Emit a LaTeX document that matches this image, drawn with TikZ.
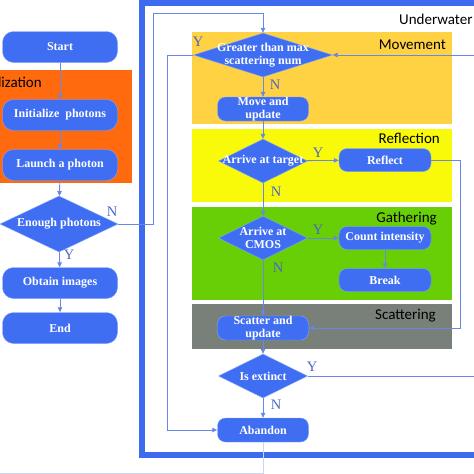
\documentclass[tikz,border=0pt]{standalone}
\usepackage{fontspec}
\setmainfont{Liberation Serif}
\newfontfamily\stagefont{Carlito}
\usetikzlibrary{arrows.meta,shapes.geometric}
\definecolor{nodeblue}{HTML}{3F6EF2}
\definecolor{nodeedge}{HTML}{86A6FF}
\definecolor{linkblue}{HTML}{6788E6}
\definecolor{frameblue}{HTML}{3E6AF0}
\definecolor{initbg}{HTML}{FF6A0E}
\definecolor{movebg}{HTML}{FFD243}
\definecolor{reflbg}{HTML}{F9F90A}
\definecolor{gathbg}{HTML}{68CE05}
\definecolor{scatbg}{HTML}{788079}
\definecolor{yntext}{HTML}{4A66C8}
\tikzset{%
    >={Triangle[length=5pt,width=4.5pt]},
    proc/.style={draw=nodeedge, fill=nodeblue, rounded corners=8pt, text=white,
        font=\bfseries\fontsize{12}{13}\selectfont, align=center, inner sep=0pt},
    bigproc/.style={proc, rounded corners=11pt, minimum width=115, minimum height=31},
    dec/.style={diamond, draw=nodeedge, fill=nodeblue, inner sep=0pt},
    dectext/.style={text=white, font=\bfseries\fontsize{12}{13}\selectfont, align=center, inner sep=0pt},
    link/.style={draw=linkblue, line width=0.8pt},
    yn/.style={text=yntext, font=\fontsize{14.5}{15}\selectfont, inner sep=0pt},
    stage/.style={font=\stagefont\fontsize{15}{18}\selectfont, inner sep=0pt}
}
\begin{document}
\begin{tikzpicture}[x=1pt,y=-1pt]
        \useasboundingbox (0,0) rectangle (474,474);
        \clip (0,0) rectangle (474,474);

        % stage panels
        \fill[initbg] (-5,70) rectangle (132,183);
        \node[stage, anchor=east] (initlbl) at (42,82) {Initialization};
        \fill[movebg] (192,32) rectangle (452,124);
        \node[stage, anchor=east] (movelbl) at (446,45) {Movement};
        \fill[reflbg] (192,129) rectangle (452,202);
        \node[stage, anchor=east] (refllbl) at (440,138) {Reflection};
        \fill[gathbg] (192,207) rectangle (452,300);
        \node[stage, anchor=east] (gathlbl) at (437,219) {Gathering};
        \fill[scatbg] (192,304) rectangle (452,349);
        \node[stage, anchor=east] (scatlbl) at (436,316) {Scattering};

        % underwater frame
        \draw[frameblue, line width=6.5pt] (142,3) rectangle (520,455);
        \node[stage, anchor=west] (uwlbl) at (399,19) {Underwater};

        % left flow
        \node[bigproc] (start) at (60,47) {Start};
        \node[bigproc] (init) at (60,115) {Initialize\ \ photons};
        \node[bigproc] (launch) at (60,165) {Launch a photon};
        \node[dec, minimum width=118, minimum height=56] (enough) at (59,224) {};
        \node[dectext] (enough-t) at (enough) {Enough photons};
        \node[bigproc] (obtain) at (60,283) {Obtain images};
        \node[bigproc] (end) at (60,328) {End};

        % underwater flow
        \node[dec, minimum width=139, minimum height=44] (gt) at (263,55) {};
        \node[dectext] (gt-t) at (gt) {Greater than max\\scattering num};
        \node[proc, minimum width=91, minimum height=24] (move) at (263,109) {Move and\\update};
        \node[dec, minimum width=89, minimum height=44] (target) at (263,161) {};
        \node[dectext] (target-t) at (target) {Arrive at target};
        \node[proc, minimum width=92, minimum height=23] (reflect) at (385,160) {Reflect};
        \node[dec, minimum width=89, minimum height=44] (cmos) at (263,238) {};
        \node[dectext] (cmos-t) at (cmos) {Arrive at\\CMOS};
        \node[proc, minimum width=92, minimum height=23] (count) at (385,238) {Count intensity};
        \node[proc, minimum width=92, minimum height=23] (break) at (385,280) {Break};
        \node[proc, minimum width=91, minimum height=24] (scatter) at (263,328) {Scatter and\\update};
        \node[dec, minimum width=89, minimum height=44] (extinct) at (263,376) {};
        \node[dectext] (extinct-t) at (extinct) {Is extinct};
        \node[proc, minimum width=91, minimum height=24] (abandon) at (263,430) {Abandon};

        % connectors
        \draw[link, ->] (start) -- (init);
        \draw[link, ->] (init) -- (launch);
        \draw[link, ->] (launch) -- (enough);
        \draw[link, ->] (enough) -- (obtain);
        \draw[link, ->] (obtain) -- (end);
        \draw[link, ->] (enough.east) -- (153,224) -- (153,13) -- (263,13) -- (gt.north);
        \draw[link, ->] (gt.west) -- (167,55) -- (167,430) -- (abandon.west);
        \draw[link, ->] (gt) -- (move);
        \draw[link, ->] (move) -- (target);
        \draw[link, ->] (target) -- (reflect);
        \draw[link, ->] (target) -- (cmos);
        \draw[link, ->] (cmos) -- (count);
        \draw[link, ->] (count) -- (break);
        \draw[link, ->] (cmos) -- (scatter);
        \draw[link, ->] (reflect.east) -- (460,160) -- (460,328) -- (scatter.east);
        \draw[link, ->] (scatter) -- (extinct);
        \draw[link, ->] (extinct) -- (abandon);
        \draw[link, ->] (extinct.east) -- (490,376) -- (490,55) -- (gt.east);
        \draw[link, draw=linkblue!35] (abandon.south) -- (263,473) -- (-5,473);

        % Y / N marks
        \node[yn] (enough-n) at (112,212) {N};
        \node[yn] (enough-y) at (69,255) {Y};
        \node[yn] (gt-y) at (198,42) {Y};
        \node[yn] (gt-n) at (275,85) {N};
        \node[yn] (target-y) at (318,153) {Y};
        \node[yn] (target-n) at (276,192) {N};
        \node[yn] (cmos-y) at (318,230) {Y};
        \node[yn] (cmos-n) at (278,268) {N};
        \node[yn] (extinct-y) at (312,367) {Y};
        \node[yn] (extinct-n) at (276,405) {N};
    \end{tikzpicture}
\end{document}
